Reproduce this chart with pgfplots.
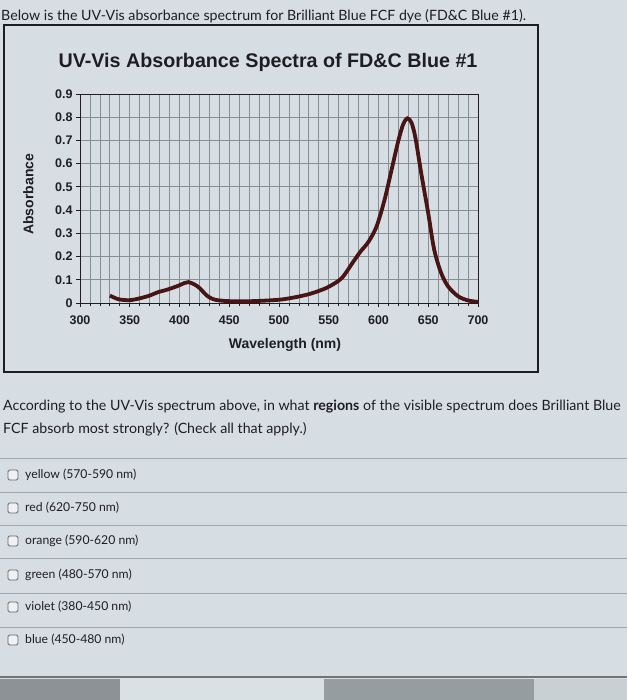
\documentclass[border=0pt]{standalone}
\usepackage{pgfplots}
\pgfplotsset{compat=1.18}
\usepackage{fontspec}
\setmainfont{Lato}
\newfontfamily\arialfont{Liberation Sans}
\definecolor{bg}{RGB}{214,222,227}
\definecolor{grd}{RGB}{135,142,148}
\definecolor{curve}{RGB}{72,20,20}
\definecolor{txt}{RGB}{30,30,34}
\definecolor{sep}{RGB}{160,168,173}
\begin{document}
\begin{tikzpicture}
\fill[bg] (0pt,0pt) rectangle (627pt,-700pt);
\useasboundingbox (0pt,0pt) rectangle (627pt,-700pt);
% heading sentence
\node[anchor=base west, inner sep=0pt, text=txt, font=\fontsize{14.2pt}{17pt}\selectfont] at (1pt,-21pt) {Below is the UV-Vis absorbance spectrum for Brilliant Blue FCF dye (FD\&C Blue \#1).};
% chart frame
\draw[txt, line width=1.3pt] (4pt,-25pt) rectangle (538pt,-372pt);
% chart title
\node[anchor=base, inner sep=0pt, text=txt, font=\arialfont\bfseries\fontsize{19.7pt}{22pt}\selectfont] at (268pt,-68pt) {UV-Vis Absorbance Spectra of FD\&C Blue \#1};
\begin{axis}[
  at={(80pt,-303pt)}, anchor=south west,
  scale only axis, width=398pt, height=209pt,
  xmin=300, xmax=700, ymin=0, ymax=0.9,
  xtick={300,350,400,450,500,550,600,650,700},
  xticklabels={300,350,400,450,500,550,600,650,700},
  minor xtick={310,320,330,340,360,370,380,390,410,420,430,440,460,470,480,490,510,520,530,540,560,570,580,590,610,620,630,640,660,670,680,690},
  ytick={0,0.1,0.2,0.3,0.4,0.5,0.6,0.7,0.8,0.9},
  yticklabels={0,0.1,0.2,0.3,0.4,0.5,0.6,0.7,0.8,0.9},
  xtick pos=bottom, ytick pos=left,
  tick align=outside,
  major tick length=4pt, minor tick length=3pt,
  grid=both,
  major grid style={grd, line width=0.8pt},
  minor grid style={grd, line width=0.8pt},
  axis line style={txt, line width=1pt},
  tick style={txt, line width=0.8pt},
  ticklabel style={font=\arialfont\bfseries\fontsize{12.5pt}{13pt}\selectfont, text=txt},
  xticklabel style={yshift=-5pt},
  xlabel={Wavelength (nm)}, ylabel={Absorbance},
  label style={font=\arialfont\bfseries\fontsize{14pt}{15pt}\selectfont, text=txt},
  xlabel style={at={(axis description cs:0.515,-0.2)}, anchor=center},
  ylabel style={at={(axis description cs:-0.13,0.52)}, anchor=center},
]
\addplot[curve, line width=3.8pt, smooth, tension=0.5] coordinates {
(330,0.032) (335,0.022) (340,0.015) (350,0.012) (360,0.020) (370,0.032)
(378,0.046) (388,0.058) (398,0.073) (405,0.086) (409,0.090) (415,0.080)
(420,0.065) (428,0.030) (435,0.015) (445,0.009) (460,0.007) (480,0.009)
(500,0.014) (510,0.020) (520,0.028) (530,0.038) (540,0.052) (550,0.070)
(563,0.107) (575,0.180) (582,0.222) (590,0.264) (598,0.329) (606,0.443)
(613,0.571) (620,0.700) (625,0.772) (629,0.795) (633,0.778) (637,0.714)
(643,0.557) (650,0.386) (656,0.229) (663,0.129) (670,0.071) (680,0.029)
(690,0.011) (700,0.005)
};
\end{axis}
% question
\node[anchor=base west, inner sep=0pt, text=txt, font=\fontsize{14.2pt}{17pt}\selectfont] at (3pt,-410pt) {According to the UV-Vis spectrum above, in what \textbf{regions} of the visible spectrum does Brilliant Blue};
\node[anchor=base west, inner sep=0pt, text=txt, font=\fontsize{14.2pt}{17pt}\selectfont] at (3pt,-433pt) {FCF absorb most strongly? (Check all that apply.)};
% separators
\foreach \y in {458,492,525,558,593,627} {\draw[sep, line width=1pt] (0pt,-\y pt) -- (627pt,-\y pt);}
% options
\foreach \y/\t in {475/{yellow (570-590 nm)},508/{red (620-750 nm)},541/{orange (590-620 nm)},575/{green (480-570 nm)},607/{violet (380-450 nm)},640/{blue (450-480 nm)}} {
  \draw[black!60, line width=0.8pt, rounded corners=1.5pt, fill=white!60!bg] (8pt,-\y pt+5pt) rectangle (18pt,-\y pt-5pt);
  \node[anchor=west, inner sep=0pt, text=txt, font=\fontsize{12.2pt}{15pt}\selectfont] at (25pt,-\y pt) {\t};
}
% bottom strip
\draw[black!55, line width=1.2pt] (0pt,-677pt) -- (627pt,-677pt);
\fill[fill={rgb,255:red,140;green,146;blue,150}] (0pt,-679pt) rectangle (120pt,-700pt);
\fill[fill={rgb,255:red,218;green,225;blue,229}] (120pt,-679pt) rectangle (324pt,-700pt);
\fill[fill={rgb,255:red,150;green,157;blue,160}] (324pt,-679pt) rectangle (534pt,-700pt);
\fill[fill={rgb,255:red,200;green,208;blue,212}] (534pt,-679pt) rectangle (627pt,-700pt);
\end{tikzpicture}
\end{document}
